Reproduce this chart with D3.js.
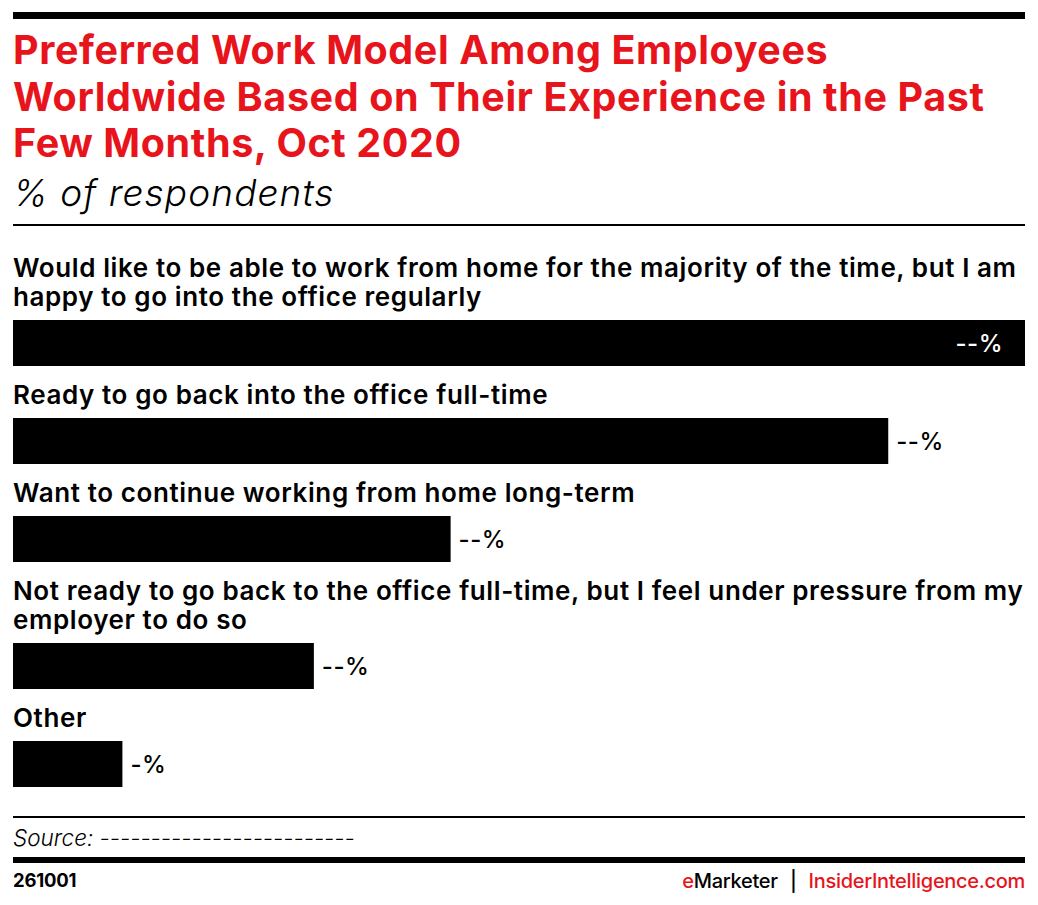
<!DOCTYPE html>
<html>
<head>
<meta charset="utf-8">
<script src="https://cdn.jsdelivr.net/npm/d3@7"></script>
<style>
  html, body { margin: 0; padding: 0; background: #fff; }
  svg { display: block; }
</style>
</head>
<body>
<svg id="chart"></svg>
<script>
// chart data
const titleLines = [
    "Preferred Work Model Among Employees",
    "Worldwide Based on Their Experience in the Past",
    "Few Months, Oct 2020"
];
const subtitle = "% of respondents";
const categories = [
    "Would like to be able to work from home for the majority of the time, but I am\nhappy to go into the office regularly",
    "Ready to go back into the office full-time",
    "Want to continue working from home long-term",
    "Not ready to go back to the office full-time, but I feel under pressure from my\nemployer to do so",
    "Other"
];
const values = [37, 32, 16, 11, 4];
// values are masked in the source picture, one dash per digit
const valueLabels = values.map(v => "-".repeat(String(v).length) + "%");
const sourceText = "Source: -------------------------";
const chartId = "261001";

const W = 1038, H = 905;
const left = 13, right = 1025;
const red = "#e8141c";
const sans = "Inter, 'Noto Sans', sans-serif";

const svg = d3.select("#chart").attr("width", W).attr("height", H);

// top rule
svg.append("rect").attr("x", left).attr("y", 12).attr("width", right - left).attr("height", 7).attr("fill", "#000");

// title
svg.append("text")
    .attr("font-family", sans)
    .attr("font-weight", 700)
    .attr("font-size", 39.5)
    .attr("letter-spacing", 0.6)
    .attr("fill", red)
    .selectAll("tspan")
    .data(titleLines)
    .join("tspan")
    .attr("x", left)
    .attr("y", (d, i) => 64 + i * 46.5)
    .text(d => d);

svg.append("text")
    .attr("x", left)
    .attr("y", 206)
    .attr("font-family", sans)
    .attr("font-weight", 300)
    .attr("font-style", "italic")
    .attr("font-size", 37)
    .attr("letter-spacing", 1.1)
    .attr("fill", "#000")
    .text(subtitle);

svg.append("rect").attr("x", left).attr("y", 224).attr("width", right - left).attr("height", 2).attr("fill", "#000");

// bars
const x = d3.scaleLinear()
    .domain([0, d3.max(values)])
    .range([left, right]);

const lineH = 29, barH = 46, labelGap = 14, rowGap = 38;
const rows = [];
let cursor = 277;
categories.forEach((c, i) => {
    const lines = c.split("\n");
    const lastBase = cursor + (lines.length - 1) * lineH;
    rows.push({ cat: c, lines, value: values[i], label: valueLabels[i], base: cursor, top: lastBase + labelGap });
    cursor = lastBase + labelGap + barH + rowGap;
});
const y = d3.scaleOrdinal().domain(categories).range(rows.map(r => r.top));
const maxV = d3.max(values);

const row = svg.selectAll(".row")
    .data(rows)
    .join("g")
    .attr("class", "row");

row.append("text")
    .attr("font-family", sans)
    .attr("font-weight", 600)
    .attr("font-size", 26)
    .attr("letter-spacing", 0.6)
    .attr("fill", "#000")
    .selectAll("tspan")
    .data(d => d.lines.map((l, j) => ({ l, yy: d.base + j * lineH })))
    .join("tspan")
    .attr("x", left)
    .attr("y", d => d.yy)
    .text(d => d.l);

row.append("rect")
    .attr("x", x(0))
    .attr("y", d => y(d.cat))
    .attr("width", d => x(d.value) - x(0))
    .attr("height", barH)
    .attr("fill", "#000");

row.append("text")
    .attr("font-family", sans)
    .attr("font-weight", 500)
    .attr("font-size", 24)
    .attr("letter-spacing", 0.5)
    .attr("y", d => y(d.cat) + barH / 2 + 9)
    .attr("x", d => d.value === maxV ? x(d.value) - 22 : x(d.value) + 8)
    .attr("text-anchor", d => d.value === maxV ? "end" : "start")
    .attr("fill", d => d.value === maxV ? "#fff" : "#000")
    .text(d => d.label);

// footer
svg.append("rect").attr("x", left).attr("y", 816).attr("width", right - left).attr("height", 2).attr("fill", "#000");

svg.append("text")
    .attr("x", left)
    .attr("y", 846)
    .attr("font-family", sans)
    .attr("font-weight", 300)
    .attr("font-style", "italic")
    .attr("font-size", 22.5)
    .attr("letter-spacing", 0)
    .attr("fill", "#000")
    .text(sourceText);

svg.append("rect").attr("x", left).attr("y", 857).attr("width", right - left).attr("height", 6).attr("fill", "#000");

svg.append("text")
    .attr("x", left)
    .attr("y", 887)
    .attr("font-family", sans)
    .attr("font-weight", 700)
    .attr("font-size", 18.5)
    .attr("letter-spacing", -0.2)
    .attr("fill", "#000")
    .text(chartId);

const brand = svg.append("text")
    .attr("x", right)
    .attr("y", 888)
    .attr("text-anchor", "end")
    .attr("font-family", sans)
    .attr("font-weight", 500)
    .attr("font-size", 20)
    .attr("letter-spacing", -0.3);
brand.append("tspan").attr("fill", red).text("e");
brand.append("tspan").attr("fill", "#000").text("Marketer");
brand.append("tspan").attr("fill", "#000").attr("dx", 12).text("|");
brand.append("tspan").attr("fill", red).attr("dx", 12).text("InsiderIntelligence.com");
</script>
</body>
</html>
